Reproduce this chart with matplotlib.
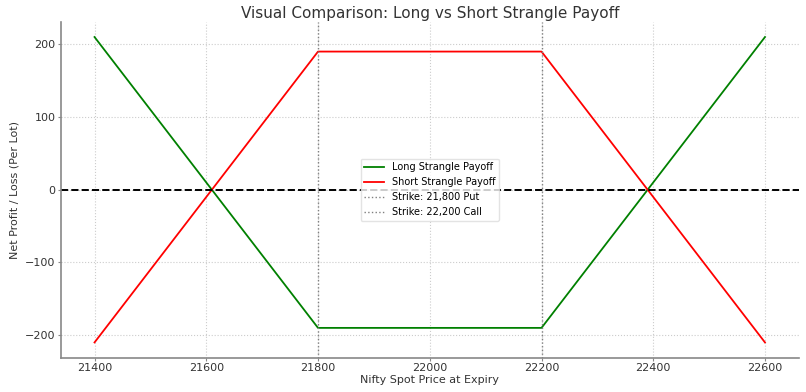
import numpy as np
import matplotlib.pyplot as plt

# =========================================
# DATA
# =========================================
spot = [21400, 21800, 22200, 22600]
long_payoff = [210, -190, -190, 210]
short_payoff = [-210, 190, 190, -210]
put_strike = 21800
call_strike = 22200

# =========================================
# PLOT
# =========================================
fig = plt.figure(figsize=(8.06, 3.92), dpi=100)
ax = fig.add_axes([0.0757, 0.0875, 0.915, 0.857])

ax.plot(spot, long_payoff, color="green", linewidth=1.3, label="Long Strangle Payoff")
ax.plot(spot, short_payoff, color="red", linewidth=1.3, label="Short Strangle Payoff")
ax.axhline(0, color="black", linestyle="--", linewidth=1.4)
ax.axvline(put_strike, color="gray", linestyle=":", linewidth=1.0, label="Strike: 21,800 Put")
ax.axvline(call_strike, color="gray", linestyle=":", linewidth=1.0, label="Strike: 22,200 Call")

ax.set_xticks([21400, 21600, 21800, 22000, 22200, 22400, 22600])
ax.set_yticks([-200, -100, 0, 100, 200])
ax.tick_params(labelsize=8, colors="#333333", length=2, pad=2, color="#888888")
ax.grid(True, linestyle=":", color="#cccccc", linewidth=0.8)

for side in ["top", "right"]:
    ax.spines[side].set_visible(False)
for side in ["left", "bottom"]:
    ax.spines[side].set_color("#888888")
    ax.spines[side].set_linewidth(1.2)

ax.set_title("Visual Comparison: Long vs Short Strangle Payoff", fontsize=11, color="#333333", pad=3)
ax.set_xlabel("Nifty Spot Price at Expiry", fontsize=8, color="#333333", labelpad=1)
ax.set_ylabel("Net Profit / Loss (Per Lot)", fontsize=8, color="#333333", labelpad=4)

leg = ax.legend(loc="center", fontsize=7, frameon=True)
leg.get_frame().set_edgecolor("#dddddd")

fig.savefig("out.png", dpi=100)
